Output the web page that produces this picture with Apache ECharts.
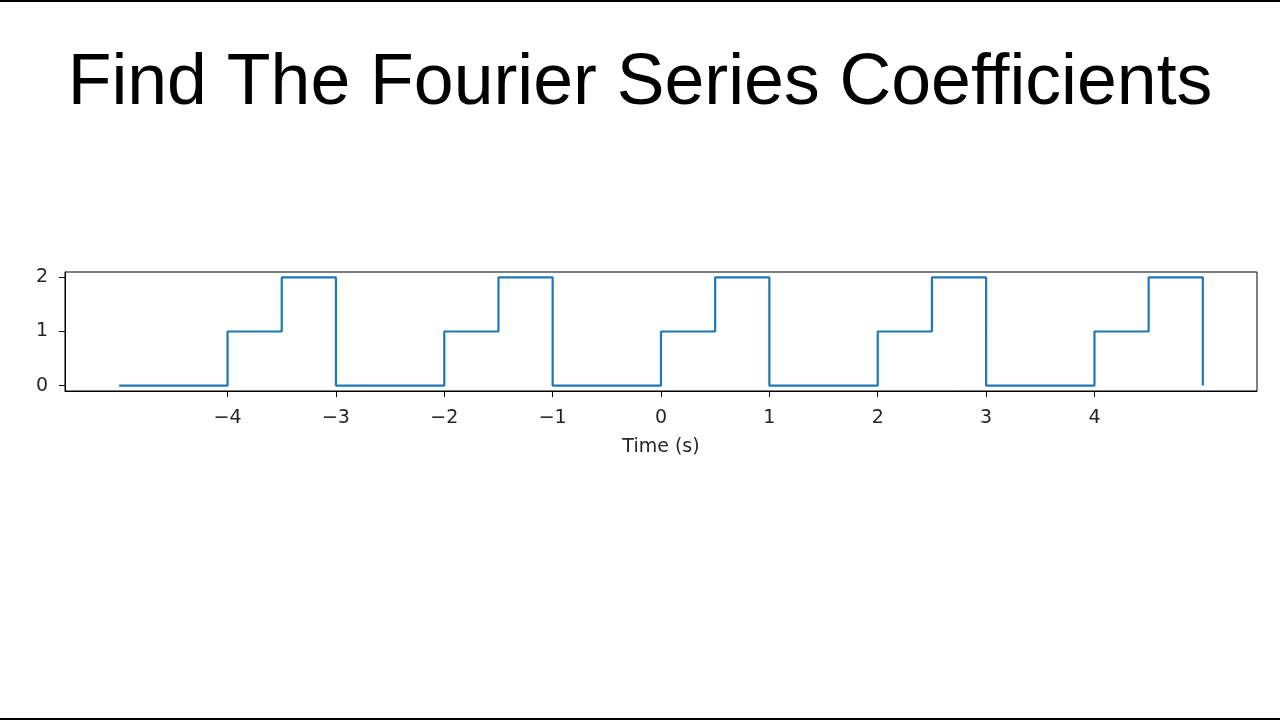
<!DOCTYPE html>
<html>
<head>
<meta charset="utf-8">
<script src="https://cdn.jsdelivr.net/npm/echarts@6/dist/echarts.min.js"></script>
<style>
html,body{margin:0;padding:0;background:#fff;}
#chart{width:1280px;height:720px;}
</style>
</head>
<body>
<div id="chart"></div>
<script>
// Step breakpoints (value holds until next breakpoint)
const times  = [-5, -4, -3.5, -3, -2, -1.5, -1, 0, 0.5, 1, 2, 2.5, 3, 4, 4.5, 5];
const values = [ 0,  1,  2,    0,  1,  2,    0, 1, 2,   0, 1, 2,   0, 1, 2,   0];
const xTicks = [-4, -3, -2, -1, 0, 1, 2, 3, 4];
const yTicks = [0, 1, 2];
const titleText = 'Find The Fourier Series Coefficients';
const xName = 'Time (s)';

const chart = echarts.init(document.getElementById('chart'));
const fmt = v => String(v).replace('-', '\u2212');
const labelStyle = {fontFamily: 'DejaVu Sans', fontSize: 19, color: '#262626'};

chart.setOption({
  animation: false,
  backgroundColor: '#fff',
  title: {
    text: titleText,
    left: 'center',
    top: 43,
    textStyle: {fontFamily: 'Liberation Sans', fontSize: 71.6, fontWeight: 'normal', color: '#000'}
  },
  graphic: [
    {type: 'rect', shape: {x: 0, y: 0, width: 1280, height: 2}, style: {fill: '#000'}},
    {type: 'rect', shape: {x: 0, y: 718, width: 1280, height: 2}, style: {fill: '#000'}}
  ],
  grid: {
    left: 65, right: 23, top: 272, bottom: 329,
    show: true, borderColor: '#000', borderWidth: 1, backgroundColor: 'transparent'
  },
  xAxis: {
    type: 'value', min: -5.5, max: 5.5,
    name: xName, nameLocation: 'middle', nameGap: 47,
    nameTextStyle: labelStyle,
    axisLine: {show: true, onZero: false, lineStyle: {color: '#000', width: 1}},
    axisTick: {show: true, length: 6, lineStyle: {color: '#000'}, customValues: xTicks},
    axisLabel: Object.assign({margin: 18, customValues: xTicks, formatter: fmt}, labelStyle),
    splitLine: {show: false}
  },
  yAxis: {
    type: 'value', min: -0.1, max: 2.1,
    axisLine: {show: true, onZero: false, lineStyle: {color: '#000', width: 1}},
    axisTick: {show: true, length: 6, lineStyle: {color: '#000'}, customValues: yTicks},
    axisLabel: Object.assign({margin: 17, padding: [5, 0, 0, 0], customValues: yTicks, formatter: fmt}, labelStyle),
    splitLine: {show: false}
  },
  series: [{
    type: 'line',
    step: 'end',
    data: times.map((t, i) => [t, values[i]]),
    showSymbol: false,
    lineStyle: {color: '#1f77b4', width: 2.2},
    itemStyle: {color: '#1f77b4'}
  }]
});
</script>
</body>
</html>
